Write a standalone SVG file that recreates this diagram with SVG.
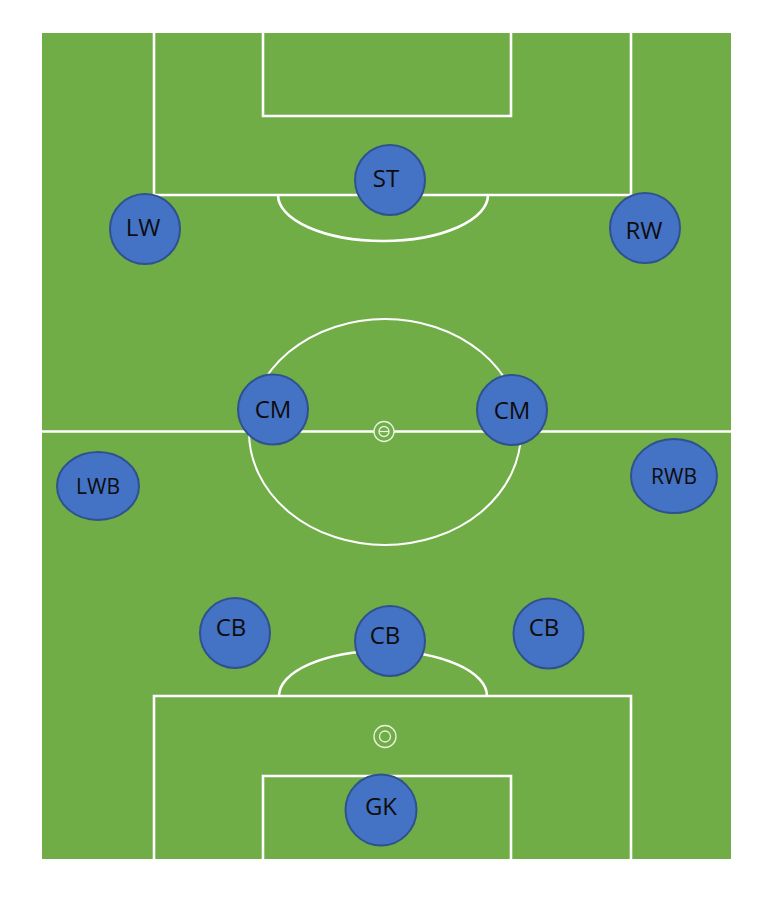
<svg xmlns="http://www.w3.org/2000/svg" width="768" height="905" viewBox="0 0 768 905">
<style>
.line{fill:none;stroke:#ffffff;stroke-width:2.6}
.thin{fill:none;stroke:#ffffff;stroke-width:2}
.spot{fill:none;stroke:#e8f2e0;stroke-width:1.3}
.player{fill:#4472C4;stroke:#2F528F;stroke-width:2}
.lbl{font-family:"Open Sans","Liberation Sans",sans-serif;font-size:24px;fill:#0d0d0d;text-anchor:middle}
.sm{font-size:21px}
</style>
<rect width="768" height="905" fill="#ffffff"/>
<g id="pitch">
<rect x="42" y="33" width="689" height="826" fill="#70AD47"/>
<path class="line" d="M154,33 V195 H631 V33"/>
<path class="line" d="M263,33 V116 H511 V33"/>
<path class="line" d="M278,195 A105,46 0 0 0 488,195"/>
<path class="line" d="M42,431.5 H731"/>
<ellipse class="thin" cx="385" cy="432" rx="136" ry="113"/>
<circle cx="384" cy="431.5" r="10" fill="#70AD47" stroke="#e8f2e0" stroke-width="1.3"/>
<circle class="spot" cx="384" cy="431.5" r="5"/>
<path class="spot" d="M379,431.5 H389"/>
<path class="line" d="M154,859 V696 H631 V859"/>
<path class="line" d="M263,859 V776 H511 V859"/>
<path class="line" d="M279,696 A104,45 0 0 1 487,696"/>
<circle class="spot" cx="385" cy="736.5" r="11"/>
<circle class="spot" cx="385" cy="736.5" r="5.5"/>
</g>
<g id="connectors"/>
<g id="ST"><circle class="player" cx="390" cy="180" r="35"/><text class="lbl" x="386" y="187">ST</text></g>
<g id="LW"><circle class="player" cx="145" cy="229" r="35"/><text class="lbl" x="143" y="236">LW</text></g>
<g id="RW"><circle class="player" cx="645" cy="228" r="35"/><text class="lbl" x="644" y="239">RW</text></g>
<g id="CM-left"><circle class="player" cx="273" cy="409.5" r="35"/><text class="lbl" x="273" y="418">CM</text></g>
<g id="CM-right"><circle class="player" cx="512" cy="410" r="35"/><text class="lbl" x="512" y="419">CM</text></g>
<g id="LWB"><ellipse class="player" cx="98" cy="486" rx="41" ry="34"/><text class="lbl sm" x="98" y="494">LWB</text></g>
<g id="RWB"><ellipse class="player" cx="674" cy="476" rx="43" ry="37"/><text class="lbl sm" x="674" y="484">RWB</text></g>
<g id="CB-left"><circle class="player" cx="235" cy="633" r="35"/><text class="lbl" x="231" y="636">CB</text></g>
<g id="CB-middle"><circle class="player" cx="390" cy="641" r="35"/><text class="lbl" x="385" y="644">CB</text></g>
<g id="CB-right"><circle class="player" cx="548.5" cy="633.5" r="35"/><text class="lbl" x="544" y="636">CB</text></g>
<g id="GK"><circle class="player" cx="381" cy="810" r="35.5"/><text class="lbl" x="381" y="815">GK</text></g>
</svg>
